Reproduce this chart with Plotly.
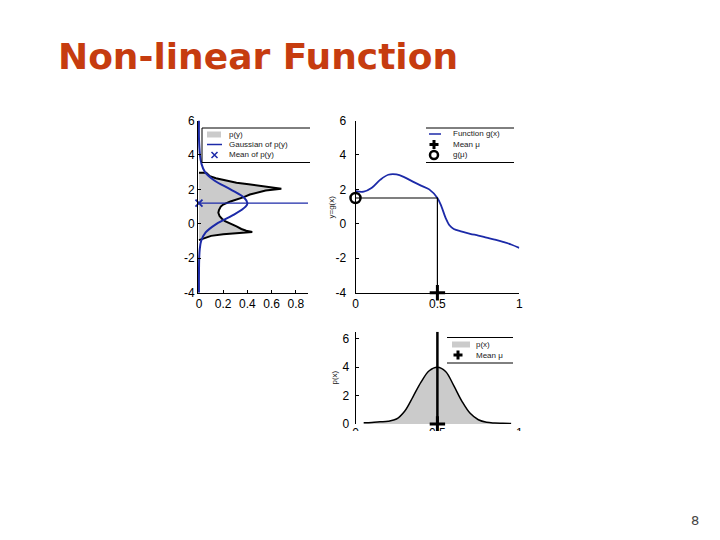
import plotly.graph_objects as go

# ---------------- data ----------------
# g(x): non-linear function (top-right panel)
gx_x = [0.0, 0.05, 0.10, 0.15, 0.20, 0.25, 0.30, 0.35, 0.40, 0.45, 0.50, 0.525, 0.55, 0.575,
        0.60, 0.65, 0.70, 0.75, 0.80, 0.85, 0.90, 0.95, 1.00]
gx_y = [1.9, 1.87, 2.1, 2.55, 2.85, 2.87, 2.7, 2.45, 2.22, 2.0, 1.5, 1.0, 0.35, -0.1,
        -0.3, -0.45, -0.58, -0.68, -0.8, -0.92, -1.05, -1.2, -1.4]

# p(x): input density (bottom panel)
px_x = [0.05, 0.10, 0.15, 0.20, 0.25, 0.30, 0.35, 0.40, 0.45, 0.50, 0.55, 0.60, 0.65,
        0.70, 0.75, 0.80, 0.85, 0.90, 0.95]
px_p = [0.08, 0.10, 0.15, 0.20, 0.35, 0.90, 1.90, 2.95, 3.75, 4.00, 3.70, 2.70, 1.60,
        0.75, 0.30, 0.12, 0.07, 0.05, 0.03]

# p(y): transformed density (left panel)
py_y = [-0.95, -0.9, -0.8, -0.7, -0.6, -0.5, -0.47, -0.4, -0.3, -0.15, 0.0, 0.15, 0.3, 0.45,
        0.64, 0.8, 1.0, 1.12, 1.3, 1.41, 1.55, 1.7, 1.85, 1.94, 2.03, 2.12, 2.19, 2.3, 2.38,
        2.5, 2.65, 2.77, 2.9, 2.96, 2.97]
py_p = [0.0, 0.02, 0.05, 0.10, 0.20, 0.40, 0.44, 0.39, 0.35, 0.31, 0.26, 0.215, 0.19, 0.17,
        0.16, 0.165, 0.18, 0.20, 0.26, 0.31, 0.37, 0.42, 0.49, 0.55, 0.68, 0.60, 0.53, 0.41, 0.31,
        0.22, 0.14, 0.09, 0.07, 0.06, 0.0]

# Gaussian approximation of p(y)
gy_y = [-4, -3, -2, -1.5, -1, -0.5, 0, 0.5, 1.0, 1.2, 1.5, 2.0, 2.5, 3.0, 3.5, 4.0, 4.5, 5, 6]
gy_p = [0, 0, 0.002, 0.006, 0.018, 0.055, 0.145, 0.28, 0.385, 0.4, 0.375, 0.26, 0.13, 0.05,
        0.02, 0.008, 0.003, 0, 0]

mu = 0.5          # mean of p(x)
g_mu = 1.5        # g(mu)
mean_py = 1.2     # mean of p(y)

left_xticks = [0, 0.2, 0.4, 0.6, 0.8]
y_ticks = [-4, -2, 0, 2, 4, 6]
y_ticktext = ["-4", "-2", "0", "2", "4", "6"]
gx_ticks = [0, 0.5, 1]
px_ticks = [0, 2, 4, 6]

# ---------------- style ----------------
BLUE = "#1c2aa8"
GRAY = "#cbcbcb"
W, H = 720, 540
TICKFONT = dict(family="Liberation Sans, Arial, sans-serif", size=12, color="black")
LEGFONT = dict(family="Liberation Sans, Arial, sans-serif", size=8, color="#222")


def X(p):
    return p / W


def Y(p):
    return 1 - p / H


fig = go.Figure()

# ----- left panel: p(y) -----
fig.add_trace(go.Scatter(x=py_p, y=py_y, mode="lines", fill="tozerox", fillcolor=GRAY,
                         line=dict(color="black", width=2), xaxis="x", yaxis="y"))
fig.add_trace(go.Scatter(x=gy_p, y=gy_y, mode="lines", line=dict(color=BLUE, width=2, shape="spline"),
                         xaxis="x", yaxis="y"))
fig.add_trace(go.Scatter(x=[0, 0.9], y=[mean_py, mean_py], mode="lines",
                         line=dict(color=BLUE, width=1.2), xaxis="x", yaxis="y"))
fig.add_trace(go.Scatter(x=[0], y=[mean_py], mode="markers", cliponaxis=False,
                         marker=dict(symbol="x-thin", size=7, color=BLUE, line=dict(color=BLUE, width=1.8)),
                         xaxis="x", yaxis="y"))

# ----- top-right panel: g(x) -----
fig.add_trace(go.Scatter(x=gx_x, y=gx_y, mode="lines", line=dict(color=BLUE, width=1.8, shape="spline"),
                         xaxis="x2", yaxis="y2"))
fig.add_trace(go.Scatter(x=[0, mu, mu], y=[g_mu, g_mu, -4], mode="lines",
                         line=dict(color="black", width=1.2), xaxis="x2", yaxis="y2"))
fig.add_trace(go.Scatter(x=[0], y=[g_mu], mode="markers", cliponaxis=False,
                         marker=dict(symbol="circle-open", size=10, color="black",
                                     line=dict(color="black", width=2.5)),
                         xaxis="x2", yaxis="y2"))
fig.add_trace(go.Scatter(x=[mu], y=[-4], mode="markers", cliponaxis=False,
                         marker=dict(symbol="cross-thin", size=11, color="black",
                                     line=dict(color="black", width=3)),
                         xaxis="x2", yaxis="y2"))

# ----- bottom panel: p(x) -----
fig.add_trace(go.Scatter(x=px_x, y=px_p, mode="lines", fill="tozeroy", fillcolor=GRAY,
                         line=dict(color="black", width=1.5, shape="spline"), xaxis="x3", yaxis="y3"))
fig.add_trace(go.Scatter(x=[mu, mu], y=[0, 6.5], mode="lines",
                         line=dict(color="black", width=2.5), xaxis="x3", yaxis="y3"))
fig.add_trace(go.Scatter(x=[mu], y=[0], mode="markers", cliponaxis=False,
                         marker=dict(symbol="cross-thin", size=11, color="black",
                                     line=dict(color="black", width=3)),
                         xaxis="x3", yaxis="y3"))

axis_common = dict(showgrid=False, zeroline=False, showline=True, linecolor="black", linewidth=1,
                   ticks="inside", ticklen=3, tickcolor="black", tickfont=TICKFONT, mirror=False,
                   automargin=False)

ydom_top = [Y(292.7), Y(120.5)]
fig.update_layout(
    width=W, height=H, showlegend=False,
    margin=dict(l=0, r=0, t=0, b=0, autoexpand=False),
    paper_bgcolor="white", plot_bgcolor="white",
    xaxis=dict(axis_common, domain=[X(198), X(308)], range=[-0.008, 0.9],
               tickvals=left_xticks, ticktext=[str(v) for v in left_xticks], anchor="y"),
    yaxis=dict(axis_common, domain=ydom_top, range=[-4, 6], tickvals=y_ticks, ticktext=y_ticktext,
               anchor="x"),
    xaxis2=dict(axis_common, domain=[X(355.5), X(519.3)], range=[0, 1], tickvals=gx_ticks,
                ticktext=["0", "0.5", "1"], anchor="y2"),
    yaxis2=dict(axis_common, domain=ydom_top, range=[-4, 6], tickvals=y_ticks, ticktext=y_ticktext,
                anchor="x2", ticklabelstandoff=6),
    xaxis3=dict(axis_common, domain=[X(355.5), X(519.3)], range=[0, 1], tickvals=gx_ticks,
                ticktext=["0", "0.5", "1"], anchor="y3", showline=False),
    yaxis3=dict(axis_common, domain=[Y(424), Y(331.7)], range=[0, 6.5], tickvals=px_ticks,
                anchor="x3", ticklabelstandoff=3),
)

shapes = []
annotations = []


def hline(x0, x1, y):
    shapes.append(dict(type="line", xref="paper", yref="paper", x0=X(x0), x1=X(x1), y0=Y(y), y1=Y(y),
                       line=dict(color="black", width=1)))


def label(x, y, text):
    annotations.append(dict(xref="paper", yref="paper", x=X(x), y=Y(y), text=text, showarrow=False,
                            xanchor="left", yanchor="middle", font=LEGFONT))


def plus(x, y, s=5, color="black", w=3):
    shapes.append(dict(type="path", xref="paper", yref="paper",
                       path=f"M {X(x - s)} {Y(y)} L {X(x + s)} {Y(y)} M {X(x)} {Y(y - s)} L {X(x)} {Y(y + s)}",
                       line=dict(color=color, width=w)))


# left legend
hline(202, 310, 128)
hline(202, 310, 162.5)
shapes.append(dict(type="line", xref="paper", yref="paper", x0=X(202), x1=X(202), y0=Y(128), y1=Y(162.5),
                   line=dict(color="black", width=1)))
shapes.append(dict(type="rect", xref="paper", yref="paper", x0=X(207), x1=X(221), y0=Y(137.5), y1=Y(131.5),
                   fillcolor=GRAY, line=dict(width=0)))
label(227, 134.5, "p(y)")
shapes.append(dict(type="line", xref="paper", yref="paper", x0=X(207), x1=X(222), y0=Y(144.5), y1=Y(144.5),
                   line=dict(color=BLUE, width=1.5)))
label(227, 144.5, "Gaussian of p(y)")
shapes.append(dict(type="path", xref="paper", yref="paper",
                   path=f"M {X(211.5)} {Y(152)} L {X(217.5)} {Y(158)} M {X(211.5)} {Y(158)} L {X(217.5)} {Y(152)}",
                   line=dict(color=BLUE, width=1.5)))
label(227, 155, "Mean of p(y)")

# top-right legend
hline(426, 514, 128)
hline(426, 514, 162.5)
shapes.append(dict(type="line", xref="paper", yref="paper", x0=X(429), x1=X(441), y0=Y(134), y1=Y(134),
                   line=dict(color=BLUE, width=1.5)))
label(451, 134, "Function g(x)")
plus(434, 144.5, 4.5)
label(451, 144.5, "Mean μ")
shapes.append(dict(type="circle", xref="paper", yref="paper", x0=X(430), x1=X(438), y0=Y(159), y1=Y(151),
                   line=dict(color="black", width=2.5)))
label(451, 155, "g(μ)")

# bottom legend
hline(447, 513, 337.5)
hline(447, 513, 363)
shapes.append(dict(type="rect", xref="paper", yref="paper", x0=X(452), x1=X(470), y0=Y(347.5), y1=Y(341.5),
                   fillcolor=GRAY, line=dict(width=0)))
label(474, 344.5, "p(x)")
plus(458, 355, 4.5)
label(474, 355, "Mean μ")

# crop of the bottom tick labels, as in the reference
shapes.append(dict(type="rect", xref="paper", yref="paper", x0=X(330), x1=X(535), y0=Y(445), y1=Y(431),
                   fillcolor="white", line=dict(width=0), layer="above"))

# axis titles
annotations.append(dict(xref="paper", yref="paper", x=X(331.5), y=Y(207), text="y=g(x)", showarrow=False,
                        textangle=-90, font=LEGFONT, xanchor="center", yanchor="middle"))
annotations.append(dict(xref="paper", yref="paper", x=X(334), y=Y(377.5), text="p(x)", showarrow=False,
                        textangle=-90, font=LEGFONT, xanchor="center", yanchor="middle"))

# slide title and page number
annotations.append(dict(xref="paper", yref="paper", x=X(56), y=Y(57), text="<b>Non-linear Function</b>",
                        showarrow=False, xanchor="left", yanchor="middle",
                        font=dict(family="DejaVu Sans, Verdana, sans-serif", size=36, color="#c63c0f")))
annotations.append(dict(xref="paper", yref="paper", x=X(695), y=Y(520), text="8", showarrow=False,
                        xanchor="center", yanchor="middle",
                        font=dict(family="DejaVu Sans, Verdana, sans-serif", size=13, color="#444")))

fig.update_layout(shapes=shapes, annotations=annotations)

fig.write_html("out.html", config={"displayModeBar": False},
               post_script="document.body.style.margin='0';document.body.style.overflow='hidden';")
